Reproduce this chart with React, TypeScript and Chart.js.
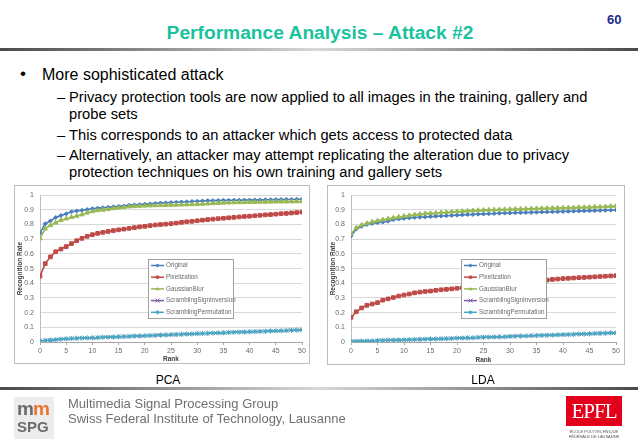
import React, { useEffect, useRef } from 'react';
import { Chart, registerables } from 'chart.js';

Chart.register(...registerables);

const ranks = [0,1,2,3,4,5,6,7,8,9,10,11,12,13,14,15,16,17,18,19,20,21,22,23,24,25,26,27,28,29,30,31,32,33,34,35,36,37,38,39,40,41,42,43,44,45,46,47,48,49,50];
const seriesNames = ['Original', 'Pixelization', 'GaussianBlur', 'ScramblingSignInversion', 'ScramblingPermutation'];
const yTicks = [0, 0.1, 0.2, 0.3, 0.4, 0.5, 0.6, 0.7, 0.8, 0.9, 1];
const xTicks = [0, 5, 10, 15, 20, 25, 30, 35, 40, 45, 50];

// PCA
const pcaOriginal = [.744,.806,.825,.848,.862,.873,.887,.893,.897,.902,.908,.912,.915,.918,.921,.924,.927,.932,.934,.936,.939,.941,.944,.947,.948,.950,.952,.954,.955,.957,.959,.961,.963,.963,.964,.965,.965,.966,.966,.967,.967,.968,.968,.969,.969,.970,.970,.971,.971,.972,.972];
const pcaPixelization = [.449,.534,.580,.615,.633,.650,.670,.690,.706,.720,.731,.740,.747,.753,.759,.764,.769,.774,.779,.784,.788,.793,.797,.800,.803,.806,.810,.815,.819,.822,.826,.830,.834,.837,.840,.843,.846,.849,.852,.855,.857,.860,.863,.866,.868,.871,.874,.876,.879,.882,.885];
const pcaGaussian = [.705,.772,.795,.812,.830,.840,.850,.858,.868,.880,.890,.897,.900,.905,.910,.914,.918,.922,.924,.926,.928,.929,.930,.931,.932,.933,.934,.935,.936,.937,.938,.940,.942,.944,.946,.948,.949,.950,.951,.952,.953,.953,.954,.954,.955,.955,.956,.956,.956,.957,.957];
const pcaSignInversion = [.008,.010,.013,.016,.019,.022,.024,.025,.027,.028,.029,.030,.032,.033,.034,.036,.037,.038,.040,.041,.043,.044,.045,.047,.048,.050,.051,.052,.054,.055,.057,.058,.059,.061,.062,.063,.065,.066,.067,.068,.070,.071,.072,.073,.075,.076,.077,.078,.080,.081,.082];
const pcaPermutation = [.008,.010,.013,.016,.019,.022,.024,.025,.027,.028,.029,.030,.032,.033,.034,.036,.037,.038,.040,.041,.043,.044,.045,.047,.048,.050,.051,.052,.054,.055,.057,.058,.059,.061,.062,.063,.065,.066,.067,.068,.070,.071,.072,.073,.075,.076,.077,.078,.080,.081,.082];

// LDA
const ldaOriginal = [.722,.770,.788,.800,.808,.813,.817,.823,.833,.838,.842,.845,.848,.850,.852,.854,.856,.858,.860,.862,.864,.866,.868,.869,.871,.872,.874,.875,.877,.878,.879,.880,.881,.882,.883,.884,.885,.886,.887,.888,.889,.890,.891,.892,.893,.894,.895,.896,.897,.898,.899];
const ldaPixelization = [.168,.206,.232,.250,.259,.268,.285,.294,.303,.313,.320,.327,.335,.340,.344,.347,.352,.356,.359,.362,.366,.369,.372,.375,.378,.381,.384,.387,.390,.393,.396,.399,.402,.405,.409,.412,.416,.422,.426,.429,.432,.434,.436,.438,.440,.442,.444,.446,.448,.450,.452];
const ldaGaussian = [.735,.778,.797,.808,.818,.826,.833,.840,.846,.852,.857,.862,.867,.871,.875,.877,.879,.882,.884,.887,.889,.891,.893,.895,.897,.899,.900,.901,.902,.903,.904,.905,.906,.907,.908,.909,.910,.911,.912,.913,.914,.915,.916,.917,.918,.919,.920,.921,.922,.924,.926];
const ldaSignInversion = [.004,.005,.006,.007,.008,.010,.011,.012,.013,.014,.015,.016,.017,.018,.019,.020,.021,.022,.023,.024,.026,.027,.028,.029,.031,.032,.033,.034,.035,.036,.038,.039,.040,.041,.043,.044,.045,.046,.047,.049,.050,.051,.052,.054,.055,.056,.058,.059,.060,.062,.063];
const ldaPermutation = [.004,.005,.006,.007,.008,.010,.011,.012,.013,.014,.015,.016,.017,.018,.019,.020,.021,.022,.023,.024,.026,.027,.028,.029,.031,.032,.033,.034,.035,.036,.038,.039,.040,.041,.043,.044,.045,.046,.047,.049,.050,.051,.052,.054,.055,.056,.058,.059,.060,.062,.063];

const colors = ['#4a7ebb', '#be4b48', '#98b954', '#7d60a0', '#46aac5'];
const pointStyles = ['rectRot', 'rect', 'triangle', 'crossRot', 'star'];
const pointRadii = [2, 2.6, 2.6, 2.6, 2.6];

function drawMarker(ctx: CanvasRenderingContext2D, style: string, x: number, y: number, r: number, color: string) {
  ctx.save();
  ctx.fillStyle = color;
  ctx.strokeStyle = color;
  ctx.lineWidth = 1;
  ctx.beginPath();
  if (style === 'rectRot') {
    ctx.moveTo(x, y - r); ctx.lineTo(x + r, y); ctx.lineTo(x, y + r); ctx.lineTo(x - r, y); ctx.closePath(); ctx.fill();
  } else if (style === 'rect') {
    ctx.rect(x - r * 0.8, y - r * 0.8, r * 1.6, r * 1.6); ctx.fill();
  } else if (style === 'triangle') {
    ctx.moveTo(x, y - r); ctx.lineTo(x + r, y + r * 0.7); ctx.lineTo(x - r, y + r * 0.7); ctx.closePath(); ctx.fill();
  } else if (style === 'crossRot') {
    ctx.moveTo(x - r, y - r); ctx.lineTo(x + r, y + r); ctx.moveTo(x + r, y - r); ctx.lineTo(x - r, y + r); ctx.stroke();
  } else {
    ctx.moveTo(x - r, y); ctx.lineTo(x + r, y); ctx.moveTo(x, y - r); ctx.lineTo(x, y + r);
    ctx.moveTo(x - r * 0.7, y - r * 0.7); ctx.lineTo(x + r * 0.7, y + r * 0.7);
    ctx.moveTo(x + r * 0.7, y - r * 0.7); ctx.lineTo(x - r * 0.7, y + r * 0.7); ctx.stroke();
  }
  ctx.restore();
}

const insideLegend = {
  id: 'insideLegend',
  afterDraw(chart: any, _args: any, opts: any) {
    const { ctx } = chart;
    const { x, y, w, h, rowH } = opts;
    ctx.save();
    ctx.fillStyle = '#ffffff';
    ctx.fillRect(x, y, w, h);
    ctx.strokeStyle = '#a0a0a0';
    ctx.lineWidth = 1;
    ctx.strokeRect(x + 0.5, y + 0.5, w, h);
    chart.data.datasets.forEach((ds: any, i: number) => {
      const cy = y + 6.5 + i * rowH;
      ctx.strokeStyle = ds.borderColor;
      ctx.lineWidth = 1.5;
      ctx.beginPath();
      ctx.moveTo(x + 3, cy);
      ctx.lineTo(x + 16, cy);
      ctx.stroke();
      drawMarker(ctx, ds.pointStyle, x + 9.5, cy, 2, ds.borderColor);
      ctx.fillStyle = '#6a6a6a';
      ctx.font = '6.3px "Liberation Sans"';
      ctx.textBaseline = 'middle';
      ctx.textAlign = 'left';
      ctx.fillText(ds.label, x + 18, cy);
    });
    ctx.restore();
  },
};

function makeConfig(series: number[][], yAxisWidth: number, xAxisHeight: number, padRight: number, legendX: number) {
  return {
    type: 'line' as const,
    data: {
      datasets: series.map((vals, i) => ({
        label: seriesNames[i],
        data: ranks.map((r, j) => ({ x: r, y: vals[j] })),
        borderColor: colors[i],
        backgroundColor: colors[i],
        borderWidth: 1.6,
        pointStyle: pointStyles[i],
        pointRadius: pointRadii[i],
        pointBorderWidth: 1,
        order: 4 - i,
        tension: 0,
      })),
    },
    options: {
      responsive: false,
      animation: false as const,
      devicePixelRatio: 1,
      layout: { padding: { left: 0, right: padRight, top: 5, bottom: 0 } },
      plugins: {
        legend: { display: false },
        tooltip: { enabled: false },
        insideLegend: { x: legendX, y: 74, w: 85, h: 59, rowH: 11.7 },
      },
      scales: {
        x: {
          type: 'linear' as const,
          min: 0,
          max: 50,
          afterBuildTicks: (s: any) => { s.ticks = xTicks.map((v) => ({ value: v })); },
          afterFit: (s: any) => { s.height = xAxisHeight; },
          ticks: { font: { family: 'Liberation Sans', size: 7 }, color: '#6a6a6a', padding: 2, maxRotation: 0 },
          grid: { drawOnChartArea: false, drawTicks: true, tickLength: 3, color: '#a6a6a6' },
          border: { display: true, color: '#a6a6a6' },
          title: { display: true, text: 'Rank', font: { family: 'Liberation Sans', size: 6.5, weight: 'bold' as const }, color: '#404040', padding: { top: 0, bottom: 1 } },
        },
        y: {
          min: 0,
          max: 1,
          afterBuildTicks: (s: any) => { s.ticks = yTicks.map((v) => ({ value: v })); },
          afterFit: (s: any) => { s.width = yAxisWidth; },
          ticks: { font: { family: 'Liberation Sans', size: 7 }, color: '#6a6a6a', padding: 6, callback: (v: any) => String(Math.round(Number(v) * 10) / 10) },
          grid: { drawTicks: false, color: '#d9d9d9' },
          border: { display: true, color: '#bfbfbf' },
          title: { display: true, text: 'Recognition Rate', font: { family: 'Liberation Sans', size: 6.5, weight: 'bold' as const }, color: '#404040', padding: { top: 2, bottom: 0 } },
        },
      },
    },
    plugins: [insideLegend],
  };
}

function ChartBox(props: { left: number; top: number; width: number; height: number; series: number[][]; yAxisWidth: number; xAxisHeight: number; padRight: number; legendX: number }) {
  const ref = useRef<HTMLCanvasElement>(null);
  useEffect(() => {
    if (!ref.current) return;
    const chart = new Chart(ref.current, makeConfig(props.series, props.yAxisWidth, props.xAxisHeight, props.padRight, props.legendX) as any);
    return () => chart.destroy();
  }, []);
  return (
    <>
      <canvas ref={ref} width={props.width} height={props.height} style={{ position: 'absolute', left: props.left, top: props.top, width: props.width, height: props.height, background: '#fff' }} />
      <div style={{ position: 'absolute', left: props.left, top: props.top, width: props.width, height: props.height, border: '1px solid #bdbdbd', boxSizing: 'border-box', pointerEvents: 'none' }} />
    </>
  );
}

const abs = (left: number, top: number, extra: React.CSSProperties = {}): React.CSSProperties => ({ position: 'absolute', left, top, whiteSpace: 'nowrap', ...extra });
const body: React.CSSProperties = { fontFamily: '"Liberation Sans", Arial, sans-serif', color: '#000', lineHeight: 1 };

export default function App() {
  return (
    <div style={{ position: 'fixed', left: 0, top: 0, width: 638, height: 442, background: '#fff', overflow: 'hidden', ...body }}>
      <div style={abs(0, 23, { width: 640, textAlign: 'center', fontSize: 19.2, fontWeight: 'bold', color: '#19c39e' })}>Performance Analysis – Attack #2</div>
      <div style={abs(607, 13, { fontSize: 13, fontWeight: 'bold', color: '#1d2b86' })}>60</div>
      <div style={abs(0, 48, { width: 638, height: 3, background: 'linear-gradient(to right, #4a4a4a, #d8d8d8 50%, #4a4a4a)' })} />

      <div style={abs(20, 65, { fontSize: 17 })}>•</div>
      <div style={abs(42, 67, { fontSize: 16 })}>More sophisticated attack</div>
      <div style={abs(57, 90, { fontSize: 14.7 })}>–</div>
      <div style={abs(69, 90, { fontSize: 14.7 })}>Privacy protection tools are now applied to all images in the training, gallery and</div>
      <div style={abs(69, 107, { fontSize: 14.7 })}>probe sets</div>
      <div style={abs(57, 128, { fontSize: 14.7 })}>–</div>
      <div style={abs(69, 128, { fontSize: 14.7 })}>This corresponds to an attacker which gets access to protected data</div>
      <div style={abs(57, 148, { fontSize: 14.7 })}>–</div>
      <div style={abs(69, 148, { fontSize: 14.7 })}>Alternatively, an attacker may attempt replicating the alteration due to privacy</div>
      <div style={abs(69, 165, { fontSize: 14.7 })}>protection techniques on his own training and gallery sets</div>

      <ChartBox left={14} top={185} width={296} height={179} series={[pcaOriginal, pcaPixelization, pcaGaussian, pcaSignInversion, pcaPermutation]} yAxisWidth={26} xAxisHeight={22} padRight={8} legendX={134} />
      <ChartBox left={327} top={185} width={298} height={180} series={[ldaOriginal, ldaPixelization, ldaGaussian, ldaSignInversion, ldaPermutation]} yAxisWidth={24} xAxisHeight={23} padRight={9} legendX={134} />

      <div style={abs(0, 374, { width: 336, textAlign: 'center', fontSize: 12 })}>PCA</div>
      <div style={abs(433, 374, { width: 100, textAlign: 'center', fontSize: 12 })}>LDA</div>

      <div style={abs(0, 387, { width: 638, height: 3, background: 'linear-gradient(to right, #4a4a4a, #d8d8d8 50%, #4a4a4a)' })} />

      <div style={abs(14, 397, { width: 40, height: 42, background: '#ececec' })}>
        <div style={abs(3, 3, { fontSize: 19, fontWeight: 'bold', letterSpacing: -1, lineHeight: '18px' })}>
          <span style={{ color: '#6b6b6b' }}>m</span><span style={{ color: '#e8752f' }}>m</span>
        </div>
        <div style={abs(3, 22, { fontSize: 15, fontWeight: 'bold', color: '#6b6b6b', lineHeight: '16px' })}>SPG</div>
      </div>
      <div style={abs(68, 397, { fontSize: 13, color: '#707070' })}>Multimedia Signal Processing Group</div>
      <div style={abs(68, 412, { fontSize: 13, color: '#707070' })}>Swiss Federal Institute of Technology, Lausanne</div>

      <div style={abs(566, 396, { width: 56, height: 30, background: '#e3001b', color: '#fff', textAlign: 'center', fontSize: 21, lineHeight: '30px', fontFamily: '"Liberation Serif", serif', letterSpacing: -1 })}>EPFL</div>
      <div style={abs(566, 429, { width: 56, textAlign: 'center', fontSize: 4, color: '#555', lineHeight: '5px' })}>ÉCOLE POLYTECHNIQUE<br />FÉDÉRALE DE LAUSANNE</div>
    </div>
  );
}
